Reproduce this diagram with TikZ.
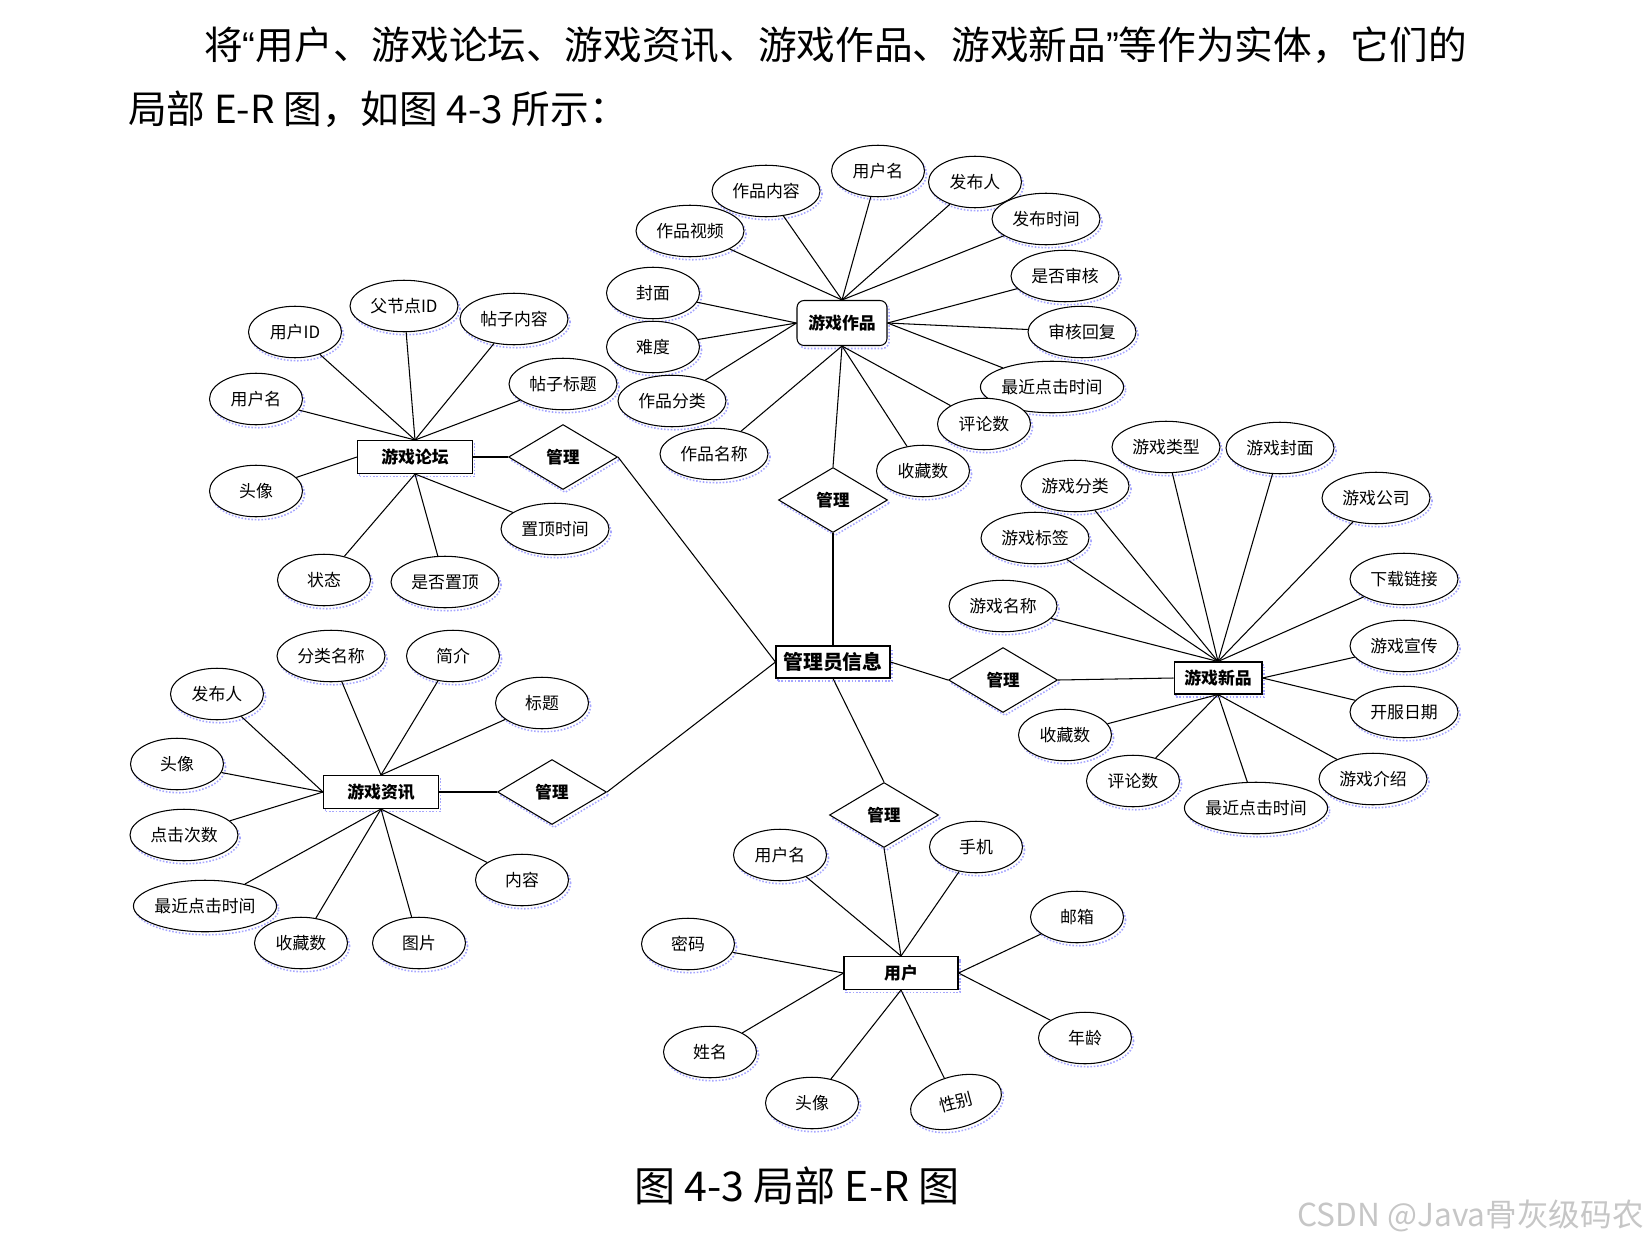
\documentclass[tikz,border=0pt]{standalone}
\usepackage{fontspec}
\setmainfont{Noto Sans CJK SC}
\newfontfamily\quotefont{Liberation Sans}
\usetikzlibrary{shapes.geometric,shadows}

\begin{document}
\begin{tikzpicture}[x=0.02cm,y=-0.02cm]
\tikzstyle{every node}=[font=\fontsize{9.6}{11}\selectfont]
\tikzstyle{dotshadow}=[general shadow={shadow xshift=1.2pt,shadow yshift=-1.7pt,draw=blue!35,densely dotted,line width=0.9pt}]
\tikzstyle{attr}=[ellipse,draw,fill=white,line width=0.6pt,inner sep=0pt,minimum width=1.86cm,minimum height=1.03cm,dotshadow]
\tikzstyle{attr wide}=[attr,minimum width=2.16cm]
\tikzstyle{attr long}=[attr,minimum width=2.84cm]
\tikzstyle{entity}=[rectangle,draw,fill=white,line width=0.6pt,inner sep=0pt,minimum width=2.3cm,minimum height=0.66cm,font=\fontsize{9.6}{11}\selectfont\bfseries,dotshadow]
\tikzstyle{relation}=[diamond,draw,fill=white,line width=0.6pt,inner sep=0pt,minimum width=2.18cm,minimum height=1.3cm,font=\fontsize{9.4}{11}\selectfont\bfseries,dotshadow]
\tikzstyle{link}=[line width=0.6pt]

\useasboundingbox (0,0) rectangle (1652,1244);

% Text above and below the diagram
\node[anchor=west,font=\fontsize{22}{26}\selectfont] (intro1) at (198,45) {将{\quotefont “}用户、游戏论坛、游戏资讯、游戏作品、游戏新品{\quotefont ”}等作为实体，它们的};
\node[anchor=west,font=\fontsize{22}{26}\selectfont] (intro2) at (122,109) {局部 E-R 图，如图 4-3 所示：};
\node[font=\fontsize{23.4}{27}\selectfont] (caption) at (797,1186) {图 4-3 局部 E-R 图};
\node[anchor=east,font=\fontsize{18}{21}\selectfont,text=gray!45] (mark) at (1650,1216) {CSDN @Java骨灰级码农};

% Draw the entities
\node[entity,rounded corners=4pt,minimum width=1.8cm,minimum height=0.9cm] (works) at (842,323) {游戏作品};
\node[entity] (forum) at (415,457) {游戏论坛};
\node[entity] (news) at (381,792) {游戏资讯};
\node[entity,minimum width=1.76cm,minimum height=0.64cm] (newgame) at (1218,678) {游戏新品};
\node[entity,minimum width=2.28cm,minimum height=0.64cm,font=\fontsize{11.3}{13}\selectfont\bfseries] (admin) at (833,662) {管理员信息};
\node[entity,minimum width=2.28cm] (user) at (901,973) {用户};

% Draw the relations
\node[relation] (rforum) at (563,457) {管理};
\node[relation] (rnews) at (552,792) {管理};
\node[relation] (rworks) at (833,500) {管理};
\node[relation] (rnewgame) at (1003,680) {管理};
\node[relation] (ruser) at (884,815) {管理};

% Draw the attributes of the game works
\node[attr wide] (w-video) at (690,231) {作品视频};
\node[attr wide] (w-content) at (766,191) {作品内容};
\node[attr] (w-user) at (878,171) {用户名};
\node[attr] (w-author) at (975,182) {发布人};
\node[attr wide] (w-time) at (1046,219) {发布时间};
\node[attr wide] (w-check) at (1065,276) {是否审核};
\node[attr wide] (w-reply) at (1082,332) {审核回复};
\node[attr long] (w-click) at (1052,387) {最近点击时间};
\node[attr] (w-comment) at (984,424) {评论数};
\node[attr] (w-fav) at (923,471) {收藏数};
\node[attr wide] (w-name) at (714,454) {作品名称};
\node[attr] (w-cover) at (653,293) {封面};
\node[attr] (w-level) at (653,347) {难度};
\node[attr wide] (w-type) at (672,401) {作品分类};

% Draw the attributes of the forum
\node[attr] (f-uid) at (295,332) {用户ID};
\node[attr wide] (f-pid) at (404,306) {父节点ID};
\node[attr wide] (f-content) at (514,319) {帖子内容};
\node[attr wide] (f-title) at (563,384) {帖子标题};
\node[attr] (f-user) at (256,399) {用户名};
\node[attr] (f-avatar) at (256,491) {头像};
\node[attr wide] (f-toptime) at (555,529) {置顶时间};
\node[attr] (f-state) at (324,580) {状态};
\node[attr wide] (f-top) at (445,582) {是否置顶};

% Draw the attributes of the news
\node[attr wide] (n-cat) at (331,656) {分类名称};
\node[attr] (n-intro) at (453,656) {简介};
\node[attr] (n-author) at (217,694) {发布人};
\node[attr] (n-title) at (542,703) {标题};
\node[attr] (n-avatar) at (177,764) {头像};
\node[attr wide] (n-clicks) at (184,835) {点击次数};
\node[attr long] (n-click) at (205,906) {最近点击时间};
\node[attr] (n-fav) at (301,943) {收藏数};
\node[attr] (n-pic) at (419,943) {图片};
\node[attr] (n-content) at (522,880) {内容};

% Draw the attributes of the new games
\node[attr wide] (g-type) at (1166,447) {游戏类型};
\node[attr wide] (g-cover) at (1280,448) {游戏封面};
\node[attr wide] (g-cat) at (1075,486) {游戏分类};
\node[attr wide] (g-company) at (1376,498) {游戏公司};
\node[attr wide] (g-tag) at (1035,538) {游戏标签};
\node[attr wide] (g-link) at (1404,579) {下载链接};
\node[attr wide] (g-name) at (1003,606) {游戏名称};
\node[attr wide] (g-promo) at (1404,646) {游戏宣传};
\node[attr wide] (g-open) at (1404,712) {开服日期};
\node[attr] (g-fav) at (1065,735) {收藏数};
\node[attr] (g-comment) at (1133,781) {评论数};
\node[attr long] (g-click) at (1256,808) {最近点击时间};
\node[attr wide] (g-intro) at (1373,779) {游戏介绍};

% Draw the attributes of the user
\node[attr] (u-name) at (780,855) {用户名};
\node[attr] (u-phone) at (976,847) {手机};
\node[attr] (u-mail) at (1077,917) {邮箱};
\node[attr] (u-pwd) at (688,944) {密码};
\node[attr] (u-real) at (710,1052) {姓名};
\node[attr] (u-age) at (1085,1038) {年龄};
\node[attr] (u-avatar) at (812,1103) {头像};
\node[attr,rotate=15] (u-sex) at (956,1102) {性别};

% Connect the game works and its attributes
\draw[link] (works.north) -- (w-video);
\draw[link] (works.north) -- (w-content);
\draw[link] (works.north) -- (w-user);
\draw[link] (works.north) -- (w-author);
\draw[link] (works.north) -- (w-time);
\draw[link] (works.east) -- (w-check);
\draw[link] (works.east) -- (w-reply);
\draw[link] (works.east) -- (w-click);
\draw[link] (works.south) -- (w-comment);
\draw[link] (works.south) -- (w-fav);
\draw[link] (works.south) -- (w-name);
\draw[link] (works.west) -- (w-cover);
\draw[link] (works.west) -- (w-level);
\draw[link] (works.west) -- (w-type);

% Connect the forum and its attributes
\draw[link] (forum.north) -- (f-uid);
\draw[link] (forum.north) -- (f-pid);
\draw[link] (forum.north) -- (f-content);
\draw[link] (forum.north) -- (f-title);
\draw[link] (forum.north) -- (f-user);
\draw[link] (forum.west) -- (f-avatar);
\draw[link] (forum.south) -- (f-toptime);
\draw[link] (forum.south) -- (f-state);
\draw[link] (forum.south) -- (f-top);

% Connect the news and its attributes
\draw[link] (news.north) -- (n-cat);
\draw[link] (news.north) -- (n-intro);
\draw[link] (news.north) -- (n-title);
\draw[link] (news.west) -- (n-author);
\draw[link] (news.west) -- (n-avatar);
\draw[link] (news.west) -- (n-clicks);
\draw[link] (news.south) -- (n-click);
\draw[link] (news.south) -- (n-fav);
\draw[link] (news.south) -- (n-pic);
\draw[link] (news.south) -- (n-content);

% Connect the new games and their attributes
\draw[link] (newgame.north) -- (g-type);
\draw[link] (newgame.north) -- (g-cover);
\draw[link] (newgame.north) -- (g-cat);
\draw[link] (newgame.north) -- (g-company);
\draw[link] (newgame.north) -- (g-tag);
\draw[link] (newgame.north) -- (g-link);
\draw[link] (newgame.north) -- (g-name);
\draw[link] (newgame.east) -- (g-promo);
\draw[link] (newgame.east) -- (g-open);
\draw[link] (newgame.south) -- (g-fav);
\draw[link] (newgame.south) -- (g-comment);
\draw[link] (newgame.south) -- (g-click);
\draw[link] (newgame.south) -- (g-intro);

% Connect the user and its attributes
\draw[link] (user.north) -- (u-name);
\draw[link] (user.north) -- (u-phone);
\draw[link] (user.east) -- (u-mail);
\draw[link] (user.east) -- (u-age);
\draw[link] (user.west) -- (u-pwd);
\draw[link] (user.west) -- (u-real);
\draw[link] (user.south) -- (u-avatar);
\draw[link] (user.south) -- (u-sex);

% Connect the relations
\draw[link] (forum.east) -- (rforum.west);
\draw[link] (rforum.east) -- (admin.west);
\draw[link] (news.east) -- (rnews.west);
\draw[link] (rnews.east) -- (admin.west);
\draw[link] (works.south) -- (rworks.north);
\draw[link] (rworks.south) -- (admin.north);
\draw[link] (admin.east) -- (rnewgame.west);
\draw[link] (rnewgame.east) -- (newgame.west);
\draw[link] (admin.south) -- (ruser.north);
\draw[link] (ruser.south) -- (user.north);

\end{tikzpicture}
\end{document}
